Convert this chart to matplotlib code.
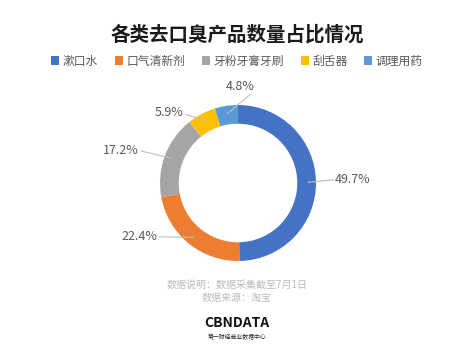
import matplotlib
matplotlib.use('Agg')
import matplotlib.pyplot as plt
from matplotlib.patches import Patch
import numpy as np

plt.rcParams['font.family'] = ['Noto Sans CJK SC', 'DejaVu Sans']

categories = ['漱口水', '口气清新剂', '牙粉牙膏牙刷', '刮舌器', '调理用药']
shares = [49.7, 22.4, 17.2, 5.9, 4.8]
colors = ['#4472C4', '#ED7D31', '#A5A5A5', '#FFC000', '#5B9BD5']

# label positions in pie coordinates (radius 1)
label_pos = [(1.47, 0.04), (-1.26, -0.68), (-1.50, 0.42), (-0.88, 0.91), (0.03, 1.24)]
line_end = [(1.22, 0.04), (-1.01, -0.69), (-1.24, 0.41), (-0.67, 0.88), (0.15, 1.13)]

W, H = 474, 353
fig = plt.figure(figsize=(W / 100, H / 100), dpi=100)
cx, cy, R = 238, 183, 78
ax = fig.add_axes([(cx - R) / W, (H - cy - R) / H, 2 * R / W, 2 * R / H])

wedges, _ = ax.pie(shares, colors=colors, startangle=90, counterclock=False,
                   radius=1, wedgeprops=dict(width=0.24, edgecolor='none'))
ax.set_xlim(-1, 1)
ax.set_ylim(-1, 1)
ax.set_aspect('equal')
ax.axis('off')

for w, val, pos, end in zip(wedges, shares, label_pos, line_end):
    ang = np.deg2rad((w.theta1 + w.theta2) / 2)
    x0, y0 = 0.9 * np.cos(ang), 0.9 * np.sin(ang)
    ax.plot([x0, end[0]], [y0, end[1]], color='#BFBFBF', lw=0.8, clip_on=False)
    ax.text(pos[0], pos[1], f'{val}%', ha='center', va='center', fontsize=9,
            color='#595959', clip_on=False)

fig.text(0.5, 1 - 35 / H, '各类去口臭产品数量占比情况', ha='center', va='center',
         fontsize=14, fontweight='bold', color='#1a1a1a')

handles = [Patch(facecolor=c, edgecolor='none') for c in colors]
fig.legend(handles, categories, loc='center', bbox_to_anchor=(0.5, 1 - 61 / H),
           ncol=5, frameon=False, fontsize=8.5, handlelength=0.7, handleheight=0.7,
           handletextpad=0.3, columnspacing=1.4, labelcolor='#595959')

fig.text(0.5, 1 - 285 / H, '数据说明：数据采集截至7月1日', ha='center', va='center',
         fontsize=7.2, color='#BBBBBB')
fig.text(0.5, 1 - 298 / H, '数据来源：淘宝', ha='center', va='center',
         fontsize=7.2, color='#BBBBBB')
fig.text(0.5, 1 - 323 / H, 'CBNDATA', ha='center', va='center',
         fontsize=10, fontweight='bold', color='#111111')
fig.text(0.5, 1 - 337 / H, '第一财经商业数据中心', ha='center', va='center',
         fontsize=4.2, color='#222222')

fig.savefig('out.png', dpi=100)
